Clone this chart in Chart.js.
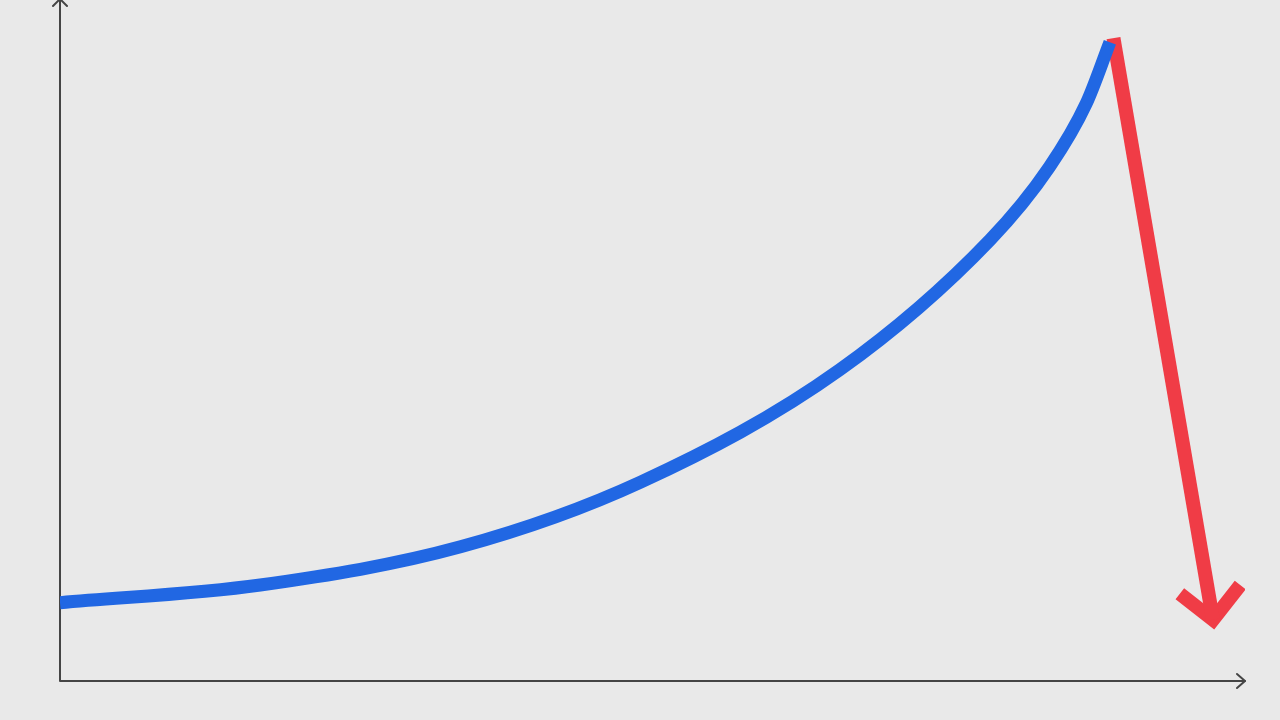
<!DOCTYPE html>
<html>
<head>
<meta charset="utf-8">
<title>Croissance puis chute</title>
<script src="https://cdn.jsdelivr.net/npm/chart.js@4/dist/chart.umd.min.js"></script>
<style>
  html, body { margin: 0; padding: 0; background: #e9e9e9; }
  #wrap { width: 1280px; height: 720px; }
</style>
</head>
<body>
<div id="wrap"><canvas id="growth-chart" width="1280" height="720"></canvas></div>
<script>
// Courbe de croissance (axe x = temps, axe y = valeur, de 0 à 100)
const curveX = [0, 16.9, 33.8, 49.0, 65.8, 78.5, 83.5, 86.6, 88.6];
const curveY = [11.5, 14.1, 19.7, 29.2, 45.7, 64.8, 75.5, 84.8, 93.8];

// Chute : flèche rouge
const dropX = [88.9, 97.3];
const dropY = [94.4, 9.0];
const headX = [94.5, 97.3, 99.6];
const headY = [12.8, 9.0, 14.1];

const toPoints = (xs, ys) => xs.map((x, i) => ({ x: x, y: ys[i] }));

// Axes avec flèches, tracés aux bords de la zone du graphique
const arrowAxes = {
  id: 'arrowAxes',
  beforeDatasetsDraw(chart) {
    const { ctx, chartArea } = chart;
    const { left, right, top, bottom } = chartArea;
    ctx.save();
    ctx.strokeStyle = '#454545';
    ctx.lineWidth = 2;
    ctx.lineCap = 'round';
    ctx.lineJoin = 'round';
    ctx.beginPath();
    ctx.moveTo(left, top);
    ctx.lineTo(left, bottom);
    ctx.lineTo(right, bottom);
    ctx.stroke();
    // pointe de l'axe x
    ctx.beginPath();
    ctx.moveTo(right - 8, bottom - 7);
    ctx.lineTo(right, bottom);
    ctx.lineTo(right - 8, bottom + 7);
    ctx.stroke();
    // pointe de l'axe y
    ctx.beginPath();
    ctx.moveTo(left - 7, top + 6);
    ctx.lineTo(left, top - 1);
    ctx.lineTo(left + 7, top + 6);
    ctx.stroke();
    ctx.restore();
  }
};

const ctx = document.getElementById('growth-chart').getContext('2d');

const growthChart = new Chart(ctx, {
  type: 'line',
  data: {
    datasets: [{
      label: 'Croissance',
      data: toPoints(curveX, curveY),
      borderColor: '#2167e3',
      borderWidth: 13,
      borderCapStyle: 'butt',
      cubicInterpolationMode: 'monotone',
      pointRadius: 0,
      fill: false
    }, {
      label: 'Chute',
      data: toPoints(dropX, dropY),
      borderColor: '#f03c46',
      borderWidth: 14,
      borderCapStyle: 'butt',
      tension: 0,
      pointRadius: 0,
      fill: false
    }, {
      label: 'Pointe',
      data: toPoints(headX, headY),
      borderColor: '#f03c46',
      borderWidth: 14,
      borderCapStyle: 'butt',
      borderJoinStyle: 'miter',
      tension: 0,
      pointRadius: 0,
      fill: false
    }]
  },
  options: {
    responsive: false,
    animation: false,
    layout: {
      padding: { left: 60, right: 35, top: 0, bottom: 39 }
    },
    plugins: {
      legend: { display: false },
      tooltip: { enabled: false }
    },
    scales: {
      x: { type: 'linear', min: 0, max: 100, display: false },
      y: { type: 'linear', min: 0, max: 100, display: false }
    }
  },
  plugins: [arrowAxes]
});
</script>
</body>
</html>
